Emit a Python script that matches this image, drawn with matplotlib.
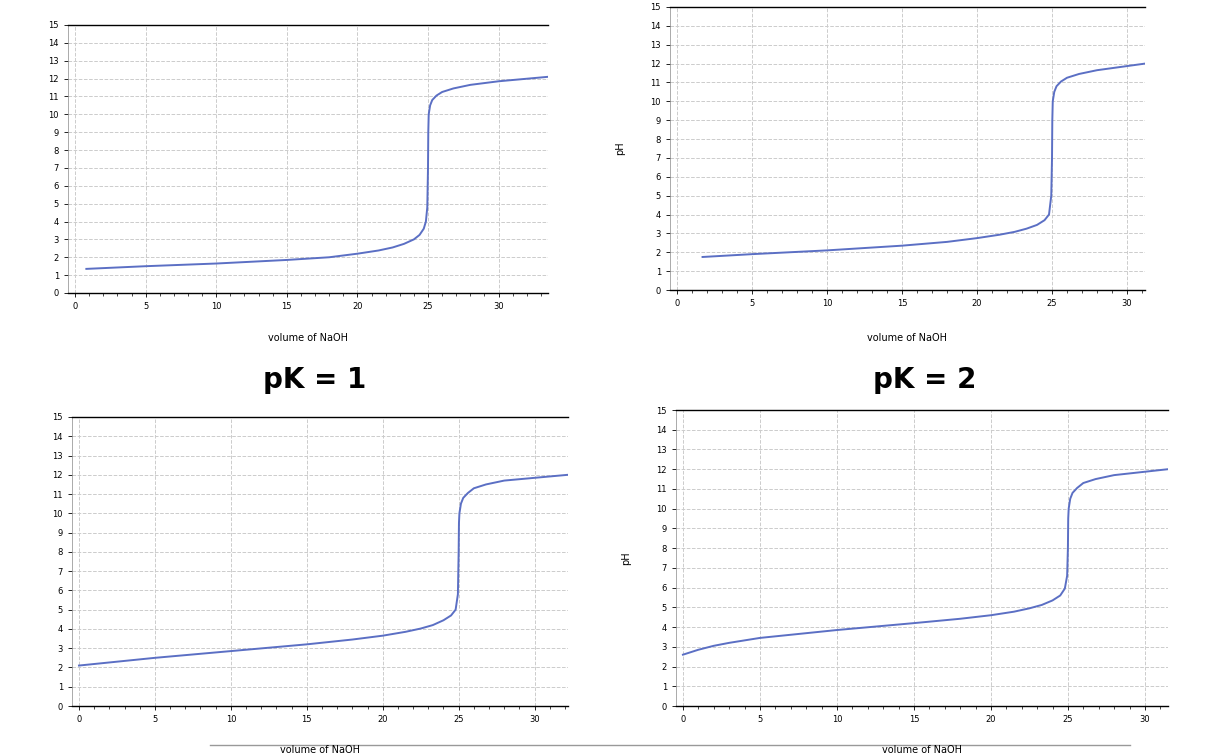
import matplotlib
matplotlib.use("Agg")
import matplotlib.pyplot as plt
from matplotlib.ticker import MultipleLocator

# Read-off points (volume of NaOH, pH)
v_tl = [0.8, 5, 10, 15, 18, 20, 21.5, 22.5, 23.3, 24, 24.4, 24.7, 24.85, 24.95, 25.0, 25.02, 25.05, 25.15, 25.3, 25.6, 26, 26.8, 28, 30, 33.5]
ph_tl = [1.35, 1.5, 1.65, 1.85, 2.0, 2.2, 2.38, 2.55, 2.75, 3.0, 3.25, 3.6, 4.0, 4.8, 7.0, 9.0, 10.0, 10.5, 10.8, 11.05, 11.25, 11.45, 11.65, 11.85, 12.1]
v_tr = [1.7, 5, 10, 15, 18, 20, 21.5, 22.5, 23.3, 24, 24.5, 24.8, 24.95, 25.0, 25.02, 25.05, 25.15, 25.3, 25.6, 26, 26.8, 28, 31.2]
ph_tr = [1.75, 1.9, 2.1, 2.35, 2.55, 2.75, 2.93, 3.08, 3.25, 3.45, 3.7, 4.0, 5.0, 7.0, 9.0, 10.0, 10.5, 10.8, 11.05, 11.25, 11.45, 11.65, 12.0]
v_bl = [0, 5, 10, 15, 18, 20, 21.5, 22.5, 23.3, 24, 24.5, 24.8, 24.95, 25.0, 25.02, 25.05, 25.15, 25.3, 25.6, 26, 26.8, 28, 32.2]
ph_bl = [2.1, 2.5, 2.85, 3.2, 3.45, 3.65, 3.85, 4.02, 4.2, 4.45, 4.7, 5.0, 5.8, 8.0, 9.5, 10.0, 10.5, 10.8, 11.05, 11.3, 11.5, 11.7, 12.0]
v_br = [0, 1, 2, 3, 5, 10, 15, 18, 20, 21.5, 22.5, 23.3, 24, 24.5, 24.8, 24.95, 25.0, 25.02, 25.05, 25.15, 25.3, 25.6, 26, 26.8, 28, 31.5]
ph_br = [2.6, 2.85, 3.05, 3.2, 3.45, 3.85, 4.2, 4.42, 4.6, 4.78, 4.95, 5.12, 5.35, 5.6, 5.95, 6.6, 8.0, 9.5, 10.0, 10.5, 10.8, 11.05, 11.3, 11.5, 11.7, 12.0]

titles = ["pK = 1", "pK = 2"]
xlabel = "volume of NaOH"
ylabel = "pH"

fig = plt.figure(figsize=(12.31, 7.55), dpi=100)
W, H = 1231, 755
panels = [
    (v_tl, ph_tl, (68, 25, 548, 293), (-0.5, 33.5), False),
    (v_tr, ph_tr, (670, 7, 1145, 290), (-0.47, 31.2), True),
    (v_bl, ph_bl, (72, 417, 568, 706), (-0.46, 32.2), False),
    (v_br, ph_br, (676, 410, 1168, 706), (-0.45, 31.5), True),
]
for i, (v, ph, (l, t, r, b), xl, lab) in enumerate(panels):
    ax = fig.add_axes([l / W, 1 - b / H, (r - l) / W, (b - t) / H])
    ax.plot(v, ph, color="#5b6fc4", lw=1.4)
    ax.set_xlim(*xl)
    ax.set_ylim(0, 15)
    ax.xaxis.set_major_locator(MultipleLocator(5))
    ax.xaxis.set_minor_locator(MultipleLocator(1))
    ax.yaxis.set_major_locator(MultipleLocator(1))
    ax.grid(True, which="major", color="#cccccc", ls="--", lw=0.7)
    ax.tick_params(labelsize=6, length=3, width=0.6)
    ax.tick_params(which="minor", length=2, width=0.5)
    ax.spines["right"].set_visible(False)
    ax.spines["left"].set_linewidth(0.5)
    ax.spines["left"].set_color("#888888")
    ax.spines["top"].set_linewidth(1.0)
    ax.spines["bottom"].set_linewidth(1.0)
    if lab:
        ax.set_ylabel(ylabel, fontsize=7, labelpad=18)
    cx = (l + r) / 2 / W
    ly = 338 if i < 2 else 750
    fig.text(cx, 1 - ly / H, xlabel, fontsize=7, ha="center", va="center")

fig.text(315 / W, 1 - 380 / H, titles[0], fontsize=20, fontweight="bold", ha="center", va="center")
fig.text(925 / W, 1 - 380 / H, titles[1], fontsize=20, fontweight="bold", ha="center", va="center")
fig.add_artist(plt.Line2D([210 / W, 1130 / W], [1 - 745 / H] * 2, color="#999999", lw=1))

fig.savefig("out.png", dpi=100)
